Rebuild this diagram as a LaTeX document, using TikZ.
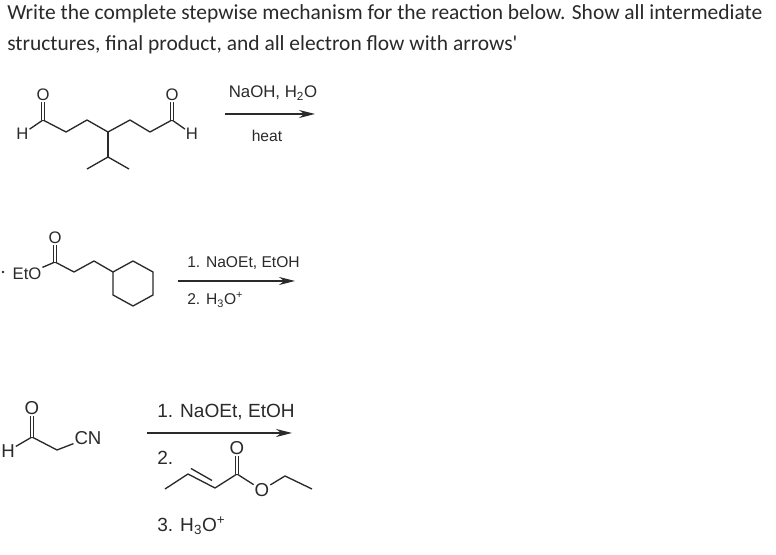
\documentclass[tikz,border=0pt]{standalone}
\usepackage{fontspec}
\usepackage{xcolor}
\setmainfont{Liberation Sans}
\newfontfamily\headfont{Carlito}
\usetikzlibrary{arrows.meta}

\begin{document}
\begin{tikzpicture}[x=0.75pt,y=-0.75pt,
  atom/.style={inner sep=0.6pt,text=ink,font=\fontsize{12.5}{14}\selectfont},
  bigatom/.style={atom,font=\fontsize{14}{16}\selectfont},
  reagent/.style={inner sep=0pt,text=ink,font=\fontsize{11.7}{14}\selectfont},
  bigreagent/.style={inner sep=0pt,text=ink,font=\fontsize{14.3}{18}\selectfont},
  headline/.style={anchor=west,inner sep=0pt,text=ink,font=\headfont\fontsize{16.1}{20}\selectfont},
  bond/.style={draw=ink,line width=1pt,line join=round},
  dbl/.style={bond,double=white,double distance=1.8pt,line width=0.8pt},
  rxn/.style={draw=ink,line width=1pt,-{Stealth[length=12pt,width=6pt]}}]
\definecolor{ink}{HTML}{2A2A2A}
\useasboundingbox (0,0) rectangle (776,555);
\fill[white] (0,0) rectangle (776,555);

\node[headline] (line1) at (7,14) {Write the complete stepwise mechanism for the reaction below. Show all intermediate};
\node[headline] (line2) at (7,45) {structures, final product, and all electron flow with arrows'};

\foreach \nm/\xx/\yy in {a1/43/120,a2/66/132,a3/87/120,a4/108/132,a5/130/120,a6/150/132,a7/172/120,a8/108/157,a9/87/169,a10/129/169}
  {\coordinate (\nm) at (\xx,\yy);}
\node[atom] (aO1) at (43,95) {O};
\node[atom] (aO2) at (172,95) {O};
\node[atom] (aH1) at (22.5,134) {H};
\node[atom] (aH2) at (192,134) {H};
\draw[bond] (aH1) -- (a1) -- (a2) -- (a3) -- (a4) -- (a5) -- (a6) -- (a7) -- (aH2);
\draw[bond] (a9) -- (a8) -- (a10);
\draw[bond] (a8) -- (a4);
\draw[dbl] (a1) -- (aO1);
\draw[dbl] (a7) -- (aO2);

\foreach \nm/\xx/\yy in {b1/55/262,b2/74/272,b3/94/261,b4/113/272,b5/133/261,b6/153/272,b7/153/295,b8/133/306,b9/113/295}
  {\coordinate (\nm) at (\xx,\yy);}
\node[circle,fill=ink,inner sep=0.7pt] (bdot) at (3,272) {};
\node[atom] (bOEt) at (27,274) {EtO};
\node[atom] (bO) at (55,238) {O};
\draw[bond] (bOEt) -- (b1) -- (b2) -- (b3) -- (b4);
\draw[bond] (b4) -- (b5) -- (b6) -- (b7) -- (b8) -- (b9) -- cycle;
\draw[dbl] (b1) -- (bO);

\foreach \nm/\xx/\yy in {c1/32/437,c2/57/450,d1/165/489,d2/188/474,d3/215/488,d4/237/474,d5/285/476,d6/312/489,d7/191/468.5,d8/212/480.5}
  {\coordinate (\nm) at (\xx,\yy);}
\node[bigatom] (cO) at (32,408) {O};
\node[bigatom] (cH) at (8,451) {H};
\node[bigatom] (cCN) at (88,438) {CN};
\draw[bond] (cH) -- (c1) -- (c2) -- (cCN);
\draw[dbl] (c1) -- (cO);
\node[bigatom] (dO1) at (237,448) {O};
\node[bigatom] (dO2) at (262,490) {O};
\draw[bond] (d1) -- (d2) -- (d3) -- (d4) -- (dO2) -- (d5) -- (d6);
\draw[bond] (d7) -- (d8);
\draw[dbl] (d4) -- (dO1);

\foreach \tl/\xa/\xb/\yy in {r1/225/315/114,r2/178/295/281,r3/147/292/433}
  {\coordinate (\tl s) at (\xa,\yy);
   \coordinate (\tl e) at (\xb,\yy);
   \draw[rxn] (\tl s) -- (\tl e);}

\node[reagent,font=\fontsize{12.6}{14}\selectfont] (naoh) at (273,93) {NaOH, H\textsubscript{2}O};
\node[reagent] (heat) at (267,136) {heat};
\node[reagent,anchor=west] (etoa) at (187,263) {1. NaOEt, EtOH};
\node[reagent,anchor=west] (hoa) at (187,300) {2. H\textsubscript{3}O\textsuperscript{+}};
\node[bigreagent,anchor=west] (etob) at (157,412) {1. NaOEt, EtOH};
\node[bigreagent,anchor=west] (two) at (157,458) {2.};
\node[bigreagent,anchor=west] (hob) at (157,526) {3. H\textsubscript{3}O\textsuperscript{+}};
\end{tikzpicture}
\end{document}
